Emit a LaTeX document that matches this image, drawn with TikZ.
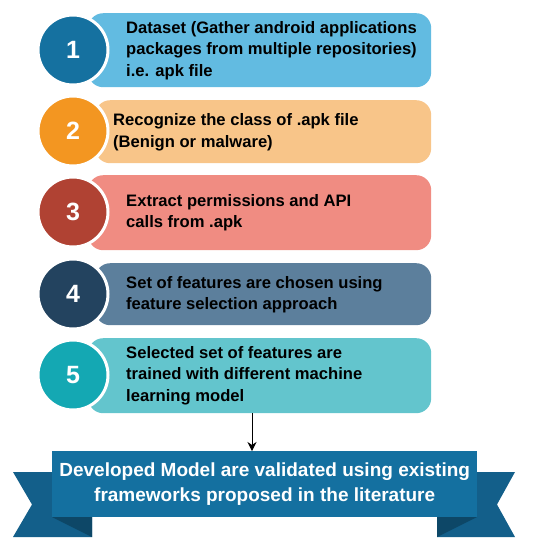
\documentclass[tikz,border=0pt]{standalone}
\usepackage{fontspec}
\setmainfont{Liberation Sans}
\usetikzlibrary{arrows.meta,calc}
\definecolor{c1d}{HTML}{1571A0}\definecolor{c1l}{HTML}{62BBE1}
\definecolor{c2d}{HTML}{F39621}\definecolor{c2l}{HTML}{F8C589}
\definecolor{c3d}{HTML}{B04233}\definecolor{c3l}{HTML}{F08C82}
\definecolor{c4d}{HTML}{23435F}\definecolor{c4l}{HTML}{5C7F9C}
\definecolor{c5d}{HTML}{14A8B3}\definecolor{c5l}{HTML}{63C5CD}
\definecolor{bmain}{HTML}{1470A0}\definecolor{btail}{HTML}{135F8A}\definecolor{bfold}{HTML}{0D4767}
\tikzset{
  stepbox/.style={rounded corners=15pt, inner sep=0pt, anchor=north west},
  numcirc/.style={circle, draw=white, line width=3pt, minimum size=70pt, inner sep=0pt,
     text=white, font=\bfseries\fontsize{25}{25}\selectfont},
  steptext/.style={anchor=west, align=left, inner sep=0pt,
     font=\bfseries\fontsize{16.6}{21.5}\selectfont},
}
\begin{document}
\begin{tikzpicture}[x=1pt,y=-1pt]
\useasboundingbox (0,0) rectangle (548,550);
% boxes
\node[stepbox, fill=c1l, minimum width=343pt, minimum height=74pt] (b1) at (88,13) {};
\node[stepbox, fill=c2l, minimum width=336pt, minimum height=63pt] (b2) at (95,100) {};
\node[stepbox, fill=c3l, minimum width=343pt, minimum height=75pt] (b3) at (88,175) {};
\node[stepbox, fill=c4l, minimum width=336pt, minimum height=62pt] (b4) at (95,263) {};
\node[stepbox, fill=c5l, minimum width=343pt, minimum height=75pt] (b5) at (88,338) {};
% circles
\node[numcirc, fill=c1d] (c1) at (73,50) {1};
\node[numcirc, fill=c2d] (c2) at (73,131) {2};
\node[numcirc, fill=c3d] (c3) at (73,212) {3};
\node[numcirc, fill=c4d] (c4) at (73,294) {4};
\node[numcirc, fill=c5d] (c5) at (73,375) {5};
% texts
\node[steptext] (t1) at (126,50.5) {Dataset (Gather android applications\\packages from multiple repositories)\\i.e. apk file};
\node[steptext] (t2) at (113,132) {Recognize the class of .apk file\\(Benign or malware)};
\node[steptext] (t3) at (126,212.5) {Extract permissions and API\\calls from .apk};
\node[steptext] (t4) at (126,294.5) {Set of features are chosen using\\feature selection approach};
\node[steptext] (t5) at (126,375.5) {Selected set of features are\\trained with different machine\\learning model};
% banner tails
\fill[btail] (13,472) -- (92,472) -- (92,537) -- (13,537) -- (32,504.5) -- cycle;
\fill[btail] (515,472) -- (437,472) -- (437,537) -- (515,537) -- (497,504.5) -- cycle;
\fill[bfold] (52,517) -- (92,517) -- (92,537) -- cycle;
\fill[bfold] (477,517) -- (437,517) -- (437,537) -- cycle;
\node[fill=bmain, minimum width=425pt, minimum height=66pt, inner sep=0pt, anchor=north west,
   text=white, align=center, font=\bfseries\fontsize{19}{25}\selectfont] (banner) at (52,451)
   {Developed Model are validated using existing\\frameworks proposed in the literature};
% arrow
\coordinate (ax) at (252,0);
\draw[line width=1pt, -{Stealth[length=9pt,width=9pt]}] (b5.south -| ax) -- (banner.north -| ax);
\end{tikzpicture}
\end{document}
